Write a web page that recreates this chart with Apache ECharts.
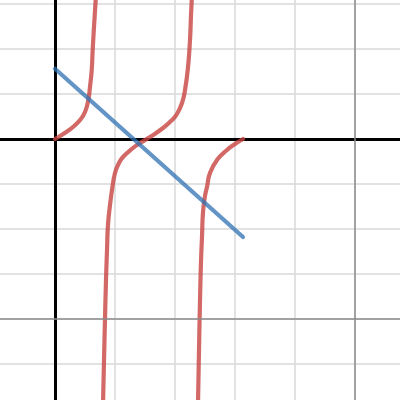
<!DOCTYPE html>
<html>
<head>
<meta charset="utf-8">
<script src="https://cdn.jsdelivr.net/npm/echarts@6/dist/echarts.min.js"></script>
<style>
    html, body { margin: 0; padding: 0; background: #fff; overflow: hidden; width: 400px; height: 400px; }
    /* plot is a bit larger than the window so that grid lines fall on the same pixels as the reference */
    #chart { position: absolute; left: -5px; top: -41px; width: 420px; height: 450px; }
</style>
</head>
<body>
<div id="chart"></div>
<script>
    // grid units: one minor grid cell per unit on both axes
    const xTicks = [-1, 0, 1, 2, 3, 4, 5, 6];
    const yTicks = [-6, -5, -4, -3, -2, -1, 0, 1, 2, 3, 4];
    const majorX = [5];
    const majorY = [-4];

    // red curve, three branches
    const redBranch1 = [
        [0, 0], [0.195, 0.162], [0.305, 0.273], [0.417, 0.422], [0.5, 0.6],
        [0.555, 0.867], [0.583, 1.156], [0.612, 1.533], [0.628, 1.978],
        [0.65, 2.489], [0.683, 3.2]
    ];
    const redBranch2 = [
        [0.8, -5.911], [0.817, -4.911], [0.833, -4.022], [0.85, -3.133],
        [0.867, -2.467], [0.883, -1.911], [0.917, -1.467], [0.95, -1.133],
        [1.0, -0.756], [1.067, -0.533], [1.133, -0.4], [1.3, -0.2],
        [1.417, -0.089], [1.583, 0.044], [1.8, 0.244], [1.95, 0.422],
        [2.033, 0.556], [2.117, 0.8], [2.167, 1.089], [2.217, 1.6],
        [2.25, 2.2], [2.267, 2.756], [2.283, 3.2]
    ];
    const redBranch3 = [
        [2.383, -5.911], [2.4, -4.689], [2.417, -3.578], [2.433, -2.733],
        [2.45, -2.178], [2.467, -1.622], [2.5, -1.267], [2.533, -1.067],
        [2.583, -0.756], [2.7, -0.467], [2.867, -0.244], [3.0, -0.111],
        [3.133, 0]
    ];
    // blue straight segment
    const blueLine = [[0, 1.56], [3.133, -2.178]];

    const chart = echarts.init(document.getElementById('chart'), null, {renderer: 'canvas'});

    const redStyle = {color: '#c74440', width: 4.2, opacity: 0.8, cap: 'round'};

    function redSeries(data) {
        return {
            type: 'line',
            data: data,
            smooth: 0.5,
            showSymbol: false,
            silent: true,
            z: 3,
            lineStyle: redStyle
        };
    }

    const option = {
        animation: false,
        backgroundColor: '#fff',
        grid: {left: 0, right: 0, top: 0, bottom: 0, containLabel: false},
        xAxis: {
            type: 'value',
            min: xTicks[0],
            max: xTicks[xTicks.length - 1],
            interval: 1,
            axisLabel: {show: false},
            axisTick: {show: false},
            axisLine: {onZero: true, lineStyle: {color: '#000', width: 3}},
            splitLine: {lineStyle: {color: '#d9d9d9', width: 1.5}}
        },
        yAxis: {
            type: 'value',
            min: yTicks[0],
            max: yTicks[yTicks.length - 1],
            interval: 1,
            axisLabel: {show: false},
            axisTick: {show: false},
            axisLine: {onZero: true, lineStyle: {color: '#000', width: 3}},
            splitLine: {lineStyle: {color: '#d9d9d9', width: 1.5}}
        },
        series: [
            {
                type: 'line',
                data: [],
                silent: true,
                z: 1,
                markLine: {
                    silent: true,
                    symbol: 'none',
                    label: {show: false},
                    lineStyle: {color: '#8c8c8c', width: 1.5, type: 'solid'},
                    data: majorX.map(v => ({xAxis: v})).concat(majorY.map(v => ({yAxis: v})))
                }
            },
            redSeries(redBranch1),
            redSeries(redBranch2),
            redSeries(redBranch3),
            {
                type: 'line',
                data: blueLine,
                showSymbol: false,
                silent: true,
                z: 4,
                lineStyle: {color: '#2d70b3', width: 4.2, opacity: 0.75, cap: 'round'}
            }
        ]
    };
    chart.setOption(option);
</script>
</body>
</html>
